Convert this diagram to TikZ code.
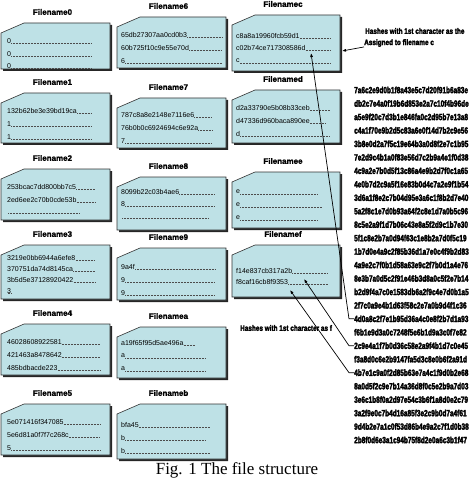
\documentclass[tikz,border=0pt]{standalone}
\usepackage{fontspec}
\setmainfont{Liberation Serif}
\setsansfont{Liberation Sans}
\newfontfamily\narrowfont[FakeStretch=0.72,BoldFeatures={FakeBold=3}]{Liberation Sans}
\newfontfamily\notefont[FakeStretch=0.8,BoldFeatures={FakeBold=2.5}]{Liberation Sans}
\newfontfamily\titlefont[BoldFeatures={FakeBold=1.5}]{Liberation Sans}
\usetikzlibrary{arrows.meta}

\definecolor{cardblue}{RGB}{190,225,230}

\tikzset{
  card/.style={fill=cardblue, draw=black!80, line width=0.6pt},
  cardshadow/.style={fill=black!85},
  cardtitle/.style={font=\titlefont\bfseries\fontsize{8}{9}\selectfont, inner sep=0pt},
  entry/.style={font=\sffamily\fontsize{7}{8}\selectfont, inner sep=0pt, anchor=west},
  dots/.style={black!70, line width=0.4pt, dash pattern=on 0.6pt off 0.9pt},
  listentry/.style={font=\narrowfont\bfseries\fontsize{9}{10}\selectfont, inner sep=0pt, anchor=west},
  note/.style={font=\notefont\bfseries\fontsize{8}{9}\selectfont, inner sep=0pt, anchor=west},
  pointer/.style={-{Latex[length=4pt,width=3pt]}, line width=0.7pt},
}

% #1 name, #2 title, #3 left, #4 top, #5 right, #6 bottom
\newcommand{\filecard}[6]{%
  \fill[cardshadow] (#3+2,#4+12) -- (#3+25,#4+2) -- (#5+2,#4+2) -- (#5+2,#6+2) -- (#3+2,#6+2) -- cycle;
  \draw[card] (#3,#4+10) -- (#3+23,#4) -- (#5,#4) -- (#5,#6) -- (#3,#6) -- cycle;
  \node[cardtitle] (#1) at ({(#3+#5)/2-3},#4-11) {#2};
}
% #1 name, #2 x, #3 y, #4 text, #5 end of dots
\newcommand{\entryline}[5]{%
  \node[entry] (#1) at (#2,#3) {#4};
  \draw[dots] (#1.base east) -- (#1.base east -| #5,0);
}

\begin{document}
\begin{tikzpicture}[x=1pt,y=-1pt]
\useasboundingbox (0,0) rectangle (474,481);

% first column
\filecard{f0}{Filename0}{1}{23}{110}{69}
\entryline{f0a}{7}{41}{0}{92}
\entryline{f0b}{7}{54}{0}{92}
\entryline{f0c}{7}{66}{0}{92}

\filecard{f1}{Filename1}{1}{93}{110}{143}
\entryline{f1a}{7}{111}{132b62be3e39bd19ca}{92}
\entryline{f1b}{7}{124}{1}{92}
\entryline{f1c}{7}{137}{1}{92}

\filecard{f2}{Filename2}{1}{169}{110}{220}
\entryline{f2a}{7}{187}{253bcac7dd800bb7c5}{95}
\entryline{f2b}{7}{200}{2ed6ee2c70b0cde53b}{95}
\entryline{f2c}{7}{213}{}{80}

\filecard{f3}{Filename3}{1}{245}{110}{299}
\entryline{f3a}{7}{258}{3219e0bb6944a6efe8}{95}
\entryline{f3b}{7}{269}{370751da74d8145ca}{95}
\entryline{f3c}{7}{280}{3b5d5e37128920422}{95}
\entryline{f3d}{7}{291}{3}{8}

\filecard{f4}{Filename4}{1}{324}{110}{375}
\entryline{f4a}{7}{342}{46028608922581}{100}
\entryline{f4b}{7}{355}{421463a8478642}{100}
\entryline{f4c}{7}{368}{485bdbacde223}{100}

\filecard{f5}{Filename5}{1}{404}{110}{455}
\entryline{f5a}{7}{422}{5e071416f347085}{100}
\entryline{f5b}{7}{435}{5e6d81a0f7f7c268c}{100}
\entryline{f5c}{7}{448}{5}{100}

% second column
\filecard{f6}{Filename6}{117}{17}{226}{68}
\entryline{f6a}{121}{35}{65db27307aa0cd0b3}{222}
\entryline{f6b}{121}{48}{60b725f10c9e55e70d}{222}
\entryline{f6c}{121}{61}{6}{222}

\filecard{f7}{Filename7}{117}{98}{226}{148}
\entryline{f7a}{121}{115}{787c8a8e2148e7116e6}{212}
\entryline{f7b}{121}{128}{76b0b0c6924694c6e92a}{212}
\entryline{f7c}{121}{141}{7}{212}

\filecard{f8}{Filename8}{117}{177}{226}{230}
\entryline{f8a}{121}{192}{8099b22c03b4ae6}{215}
\entryline{f8b}{121}{204}{8}{215}
\entryline{f8c}{121}{218}{}{208}

\filecard{f9}{Filename9}{117}{248}{226}{300}
\entryline{f9a}{121}{267}{9a4f}{215}
\entryline{f9b}{121}{280}{9}{215}
\entryline{f9c}{121}{293}{9}{215}

\filecard{fa}{Filenamea}{117}{327}{226}{378}
\entryline{faa}{121}{343}{a19f65f95d5ae496a}{195}
\entryline{fab}{121}{356}{a}{205}
\entryline{fac}{121}{369}{a}{205}

\filecard{fb}{Filenameb}{117}{404}{226}{459}
\entryline{fba}{121}{425}{bfa45}{210}
\entryline{fbb}{121}{438}{b}{205}
\entryline{fbc}{121}{451}{b}{210}

% third column
\filecard{fc}{Filenamec}{232}{15}{340}{71}
\entryline{fca}{236}{36}{c8a8a19960fcb59d1}{330}
\entryline{fcb}{236}{48}{c02b74ce717308586d}{330}
\entryline{fcc}{236}{61}{c}{330}

\filecard{fd}{Filenamed}{232}{90}{340}{143}
\entryline{fda}{236}{108}{d2a33790e5b08b33ceb}{330}
\entryline{fdb}{236}{121}{d47336d960baca890ee}{325}
\entryline{fdc}{236}{134}{d}{330}

\filecard{fe}{Filenamee}{232}{172}{340}{228}
\entryline{fea}{236}{192}{e}{318}
\entryline{feb}{236}{205}{e}{322}
\entryline{fec}{236}{218}{e}{318}

\filecard{ff}{Filenamef}{232}{245}{340}{297}
\entryline{ffa}{236}{271}{f14e837cb317a2b}{328}
\entryline{ffb}{236}{282}{f8caf16cb8f9353}{328}

% list of hashes
\foreach \h [count=\i] in {7a6c2e9d0b1f8a43e5c7d20f91b6a83e,db2c7e4a0f19b6d853e2a7c10f4b96de,
  a5e9f20c7d3b1e846fa0c2d95b7e13a8,c4a1f70e9b2d5c83a6e0f14d7b2c9e56,3b8e0d2a7f5c19e64b3a0d8f2e7c1b95,
  7e2d9c4b1a0f83e56d7c2b9a4e1f0d38,4c9a2e7b0d5f13c86a4e9b2d7f0c1a65,4e0b7d2c9a5f16e83b0d4c7a2e9f1b54,
  3d6a1f8e2c7b04d95e3a6c1f8b2d7e40,5a2f8c1e7d0b93a64f2c8e1d7a0b5c96,8c5e2a9f1d7b06c43e8a5f2d9c1b7e30,
  5f1c8e2b7a0d94f63c1e8b2a7d0f5c19,1b7d0e4a9c2f85b36d1a7e0c4f9b2d83,4a9e2c7f0b1d58a63e9c2f7b0d1a4e76,
  8e3b7a0d5c2f91e46b3d8a0c5f2e7b14,b2d9f4a7c0e1583db6a2f9c4e7d0b1a5,2f7c0a9e4b1d63f58c2e7a0b9d4f1c36,
  4d0a8c2f7e1b95d36a4c0e8f2b7d1a93,f6b1e9d3a0c7248f5e6b1d9a3c0f7e82,2c9e4a1f7b0d36c58e2a9f4b1d7c0e45,
  f3a8d0c6e2b9147fa5d3c8e0b6f2a91d,4b7e1c9a0f2d85b63e7a4c1f9d0b2e68,8a0d5f2c9e7b14a36d8f0c5e2b9a7d03,
  3e6c1b8f0a2d97e54c3b6f1a8d0e2c79,3a2f9e0c7b4d16a85f3e2c9b0d7a4f61,9d4b2e7a1c0f53d86b4e9a2c7f1d0b38,
  2b8f0d6e3a1c94b75f8d2e0a6c3b1f47}
  \node[listentry] (h\i) at (354,{90+(\i-1)*13.46}) {\h};

% notes and pointers
\node[note] (notec1) at (365,31) {Hashes with 1st character as the};
\node[note] (notec2) at (364,43) {Assigned to filename c};
\node[note] (notef) at (240,328) {Hashes with 1st character as f};

\coordinate (fc-in) at (311,53);
\coordinate (fc-side) at (342,51);
\coordinate (ff-in1) at (304,279);
\coordinate (ff-in2) at (290,290);

\draw[pointer] (notec2.south west) -- (fc-side);
\draw[pointer] (h18.west) -- ++(-5,0) -- (fc-in);
\draw[pointer] (h20.west) -- ++(-5,0) -- (ff-in1);
\draw[pointer] (h22.west) -- ++(-5,0) -- (ff-in2);

\node[font=\fontsize{17}{19}\selectfont, inner sep=0pt] (caption) at (237,470) {Fig. 1 The file structure};
\end{tikzpicture}
\end{document}
